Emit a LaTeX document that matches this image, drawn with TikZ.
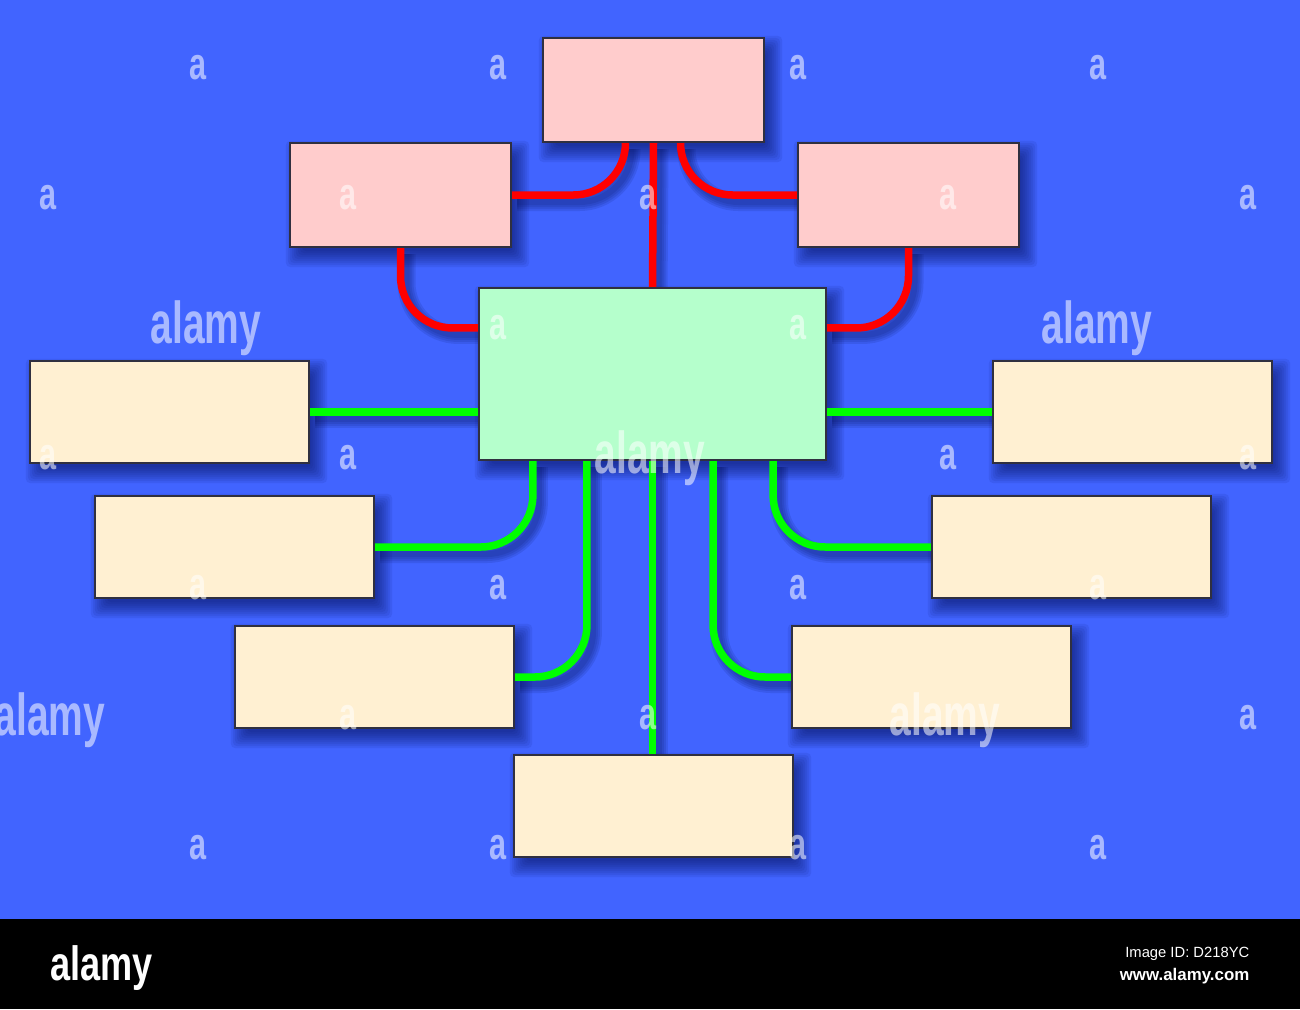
\documentclass[tikz,border=0pt]{standalone}
\usepackage{fontspec}
\setmainfont{Liberation Sans}
\newfontfamily\wmfont{Liberation Sans}
\pgfdeclarelayer{back}
\pgfdeclarelayer{lines}
\pgfdeclarelayer{front}
\pgfsetlayers{back,lines,main,front}
\definecolor{bgblue}{HTML}{4164FF}
\definecolor{shadowc}{HTML}{000A50}
\definecolor{pinkc}{HTML}{FFCCCC}
\definecolor{greenc}{HTML}{B5FFCC}
\definecolor{creamc}{HTML}{FFF0D2}
\definecolor{redc}{HTML}{FF0000}
\definecolor{linegreen}{HTML}{00FF00}
\definecolor{edgec}{HTML}{303040}
\tikzset{
  box/.style={draw=edgec, line width=0.6pt, inner sep=0pt, outer sep=0pt},
  pinkbox/.style={box, fill=pinkc, minimum width=2.21cm, minimum height=1.04cm},
  centerbox/.style={box, fill=greenc, minimum width=3.47cm, minimum height=1.72cm},
  creambox/.style={box, fill=creamc, minimum width=2.79cm, minimum height=1.02cm},
  redline/.style={draw=redc, line width=0.075cm, rounded corners=0.52cm},
  greenline/.style={draw=linegreen, line width=0.075cm, rounded corners=0.52cm},
  lshadow/.style={draw=shadowc, rounded corners=0.52cm, transform canvas={shift={(0.06cm,-0.07cm)}}},
  wma/.style={text=white, opacity=0.55, inner sep=0pt, font=\wmfont\bfseries\fontsize{12.8pt}{13pt}\selectfont, xscale=0.68},
  wmalamy/.style={text=white, opacity=0.55, inner sep=0pt, anchor=base, font=\wmfont\bfseries\fontsize{16.8pt}{17pt}\selectfont, xscale=0.66},
}
\newcommand\allconnectors[1]{%
  \draw[#1] (t.south) -- (c.north);
  \draw[#1] ([xshift=-0.28cm]t.south) |- (lt.east);
  \draw[#1] ([xshift=0.27cm]t.south) |- (rt.west);
  \draw[#1] (lt.south) |- ([yshift=-0.40cm]c.north west);
  \draw[#1] (rt.south) |- ([yshift=-0.40cm]c.north east);
}
\newcommand\allgreen[1]{%
  \draw[#1] (l1.east) -- (c.west |- l1.east);
  \draw[#1] (r1.west) -- (c.east |- r1.west);
  \draw[#1] ([xshift=-1.195cm]c.south) |- (l2.east);
  \draw[#1] ([xshift=-0.655cm]c.south) |- (l3.east);
  \draw[#1] (c.south) -- (c.south |- b.north);
  \draw[#1] ([xshift=0.605cm]c.south) |- (r3.west);
  \draw[#1] ([xshift=1.205cm]c.south) |- (r2.west);
}
\begin{document}
\begin{tikzpicture}[x=0.01cm,y=-0.01cm]
\useasboundingbox (0,0) rectangle (1300,1009);
\begin{pgfonlayer}{back}
  \fill[bgblue] (0,0) rectangle (1300,919);
  \fill[black] (0,919) rectangle (1300,1009);
\end{pgfonlayer}
% boxes
\node[pinkbox] (t) at (653.5,90) {};
\node[pinkbox] (lt) at (400.5,195) {};
\node[pinkbox] (rt) at (908.5,195) {};
\node[centerbox] (c) at (652.5,374) {};
\node[creambox] (l1) at (169.5,412) {};
\node[creambox] (r1) at (1132.5,412) {};
\node[creambox] (l2) at (234.5,547) {};
\node[creambox] (r2) at (1071.5,547) {};
\node[creambox] (l3) at (374.5,677) {};
\node[creambox] (r3) at (931.5,677) {};
\node[creambox] (b) at (653.5,806) {};
% shadows
\begin{pgfonlayer}{back}
  \foreach \n in {t,lt,rt,c,l1,r1,l2,r2,l3,r3,b}{
    \foreach \r in {11,9,7,5,3,1,-1,-3,-5}{
      \fill[shadowc, opacity=0.08, rounded corners=0.04cm]
        ([shift={(7-\r,9-\r)}]\n.north west) rectangle ([shift={(7+\r,9+\r)}]\n.south east);
    }
  }
  \foreach \w in {0.18,0.14,0.10,0.06}{
    \allconnectors{lshadow, line width=\w cm, opacity=0.11}
    \allgreen{lshadow, line width=\w cm, opacity=0.11}
  }
\end{pgfonlayer}
\begin{pgfonlayer}{lines}
  \allconnectors{redline}
  \allgreen{greenline}
\end{pgfonlayer}
% watermarks
\begin{pgfonlayer}{front}
  \foreach \x in {198,498,798,1098}{
    \node[wma] (wa68\x) at (\x,68) {a};
    \node[wma] (wa588\x) at (\x,588) {a};
    \node[wma] (wa848\x) at (\x,848) {a};
  }
  \foreach \x in {48,348,648,948,1248}{
    \node[wma] (wa198\x) at (\x,198) {a};
  }
  \foreach \x in {498,798}{
    \node[wma] (wa328\x) at (\x,328) {a};
  }
  \foreach \x in {48,348,948,1248}{
    \node[wma] (wa458\x) at (\x,458) {a};
  }
  \foreach \x in {348,648,1248}{
    \node[wma] (wa718\x) at (\x,718) {a};
  }
  \node[wmalamy] (al1) at (206,343) {alamy};
  \node[wmalamy] (al2) at (1097,343) {alamy};
  \node[wmalamy] (al3) at (650,473) {alamy};
  \node[wmalamy] (al4) at (50,735) {alamy};
  \node[wmalamy] (al5) at (945,735) {alamy};
  % bottom bar
  \node[text=white, anchor=base west, inner sep=0pt, xscale=0.75,
        font=\bfseries\fontsize{13.7pt}{14pt}\selectfont] (bal) at (50,980) {alamy};
  \node[text=white, anchor=base east, inner sep=0pt,
        font=\fontsize{4.2pt}{5pt}\selectfont] (bid) at (1250,957) {Image ID: D218YC};
  \node[text=white, anchor=base east, inner sep=0pt,
        font=\bfseries\fontsize{4.8pt}{5pt}\selectfont] (bwww) at (1250,980) {www.alamy.com};
\end{pgfonlayer}
\end{tikzpicture}
\end{document}
